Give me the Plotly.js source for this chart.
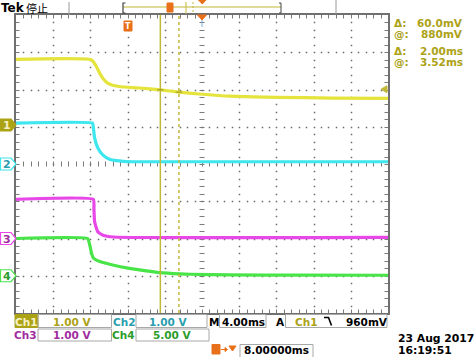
<!DOCTYPE html>
<html><head><meta charset="utf-8">
<script src="https://cdn.plot.ly/plotly-3.0.1.min.js"></script>
<style>html,body{margin:0;padding:0;background:#fff;overflow:hidden}#chart{width:474px;height:357px}</style>
</head><body><div id="chart"></div>
<script>
// ---- data (time in ms relative to trigger, values in volts) ----
const ch1Time = [-12, -3.9, -3.45, -3.0, -2.6, -2.15, -1.7, -0.9, 1.3, 3.52, 5.52, 7.7, 11, 16, 22, 28];
const ch1Volt = [1.76, 1.75, 1.61, 1.39, 1.23, 1.12, 1.07, 1.03, 0.99, 0.94, 0.88, 0.83, 0.77, 0.74, 0.72, 0.71];
const ch2Time = [-12, -3.78, -3.7, -3.55, -3.2, -2.65, -1.95, -1.2, 0.5, 28];
const ch2Volt = [1.1, 1.1, 1.02, 0.70, 0.43, 0.24, 0.13, 0.09, 0.06, 0.06];
const ch3Time = [-12, -3.68, -3.62, -3.55, -3.2, -2.65, -1.5, 28];
const ch3Volt = [1.05, 1.05, 0.8, 0.45, 0.18, 0.09, 0.04, 0.03];
const ch4Time = [-12, -4.3, -4.1, -3.87, -3.66, -3.0, -1.6, 0.2, 2.0, 3.45, 5.6, 6.7, 11, 18.5, 28];
const ch4Volt = [5.0, 5.0, 4.3, 3.0, 2.35, 1.9, 1.45, 1.0, 0.65, 0.42, 0.25, 0.2, 0.12, 0.08, 0.07];
const channelNames = ['Ch1', 'Ch2', 'Ch3', 'Ch4'];
const channelScales = ['1.00 V', '1.00 V', '1.00 V', '5.00 V'];
const cursorTimes = [3.52, 5.52];
const cursorVolts = [0.94, 0.88];
const cursorLabels = ['\u0394:', '@:', '\u0394:', '@:'];
const cursorValues = ['60.0mV', '880mV', '2.00ms', '3.52ms'];
const timebase = '4.00ms';
const trigLevel = 0.96;
const trigLevelText = '960mV';
const trigPosText = '8.00000ms';
const dateText = '23 Aug 2017';
const timeText = '16:19:51';

// ---- styling ----
const C1 = '#e4e43c', C2 = '#3ee6ee', C3 = '#e848e8', C4 = '#48e448';
const T1 = '#aca216', T2 = '#2a9eae', T3 = '#a02ca0', T4 = '#2c9c2c';
const OLIVE = '#c2b838', ORANGE = '#e8701a';
const L = 16, R = 388, T = 15, B = 313;
const X = px => (px - L) / (R - L);
const Y = py => (B - py) / (B - T);
const FONT = 'DejaVu Sans';
const FS = 10.5;
const shapes = [], ann = [];

function line(x0, y0, x1, y1, color, width, dash) {
  shapes.push({type: 'line', xref: 'paper', yref: 'paper', x0: X(x0), y0: Y(y0), x1: X(x1), y1: Y(y1),
    line: {color: color, width: width || 1, dash: dash || 'solid'}});
}
function rect(x0, y0, x1, y1, lineColor, fill, width) {
  shapes.push({type: 'rect', xref: 'paper', yref: 'paper', x0: X(x0), y0: Y(y1), x1: X(x1), y1: Y(y0),
    line: {color: lineColor, width: width === undefined ? 1 : width}, fillcolor: fill || 'rgba(0,0,0,0)'});
}
function poly(pts, lineColor, fill, width, close) {
  let d = pts.map((p, i) => (i ? 'L' : 'M') + X(p[0]).toFixed(5) + ',' + Y(p[1]).toFixed(5)).join(' ');
  if (close !== false) d += ' Z';
  shapes.push({type: 'path', xref: 'paper', yref: 'paper', path: d,
    line: {color: lineColor, width: width === undefined ? 1 : width}, fillcolor: fill || 'rgba(0,0,0,0)'});
}
function text(s, px, py, color, size, anchor, weight, family) {
  ann.push({text: s, xref: 'paper', yref: 'paper', x: X(px), y: Y(py), xanchor: anchor || 'left', yanchor: 'middle',
    showarrow: false, borderpad: 0,
    font: {family: family || FONT, size: size || FS, color: color || '#000', weight: weight || 'bold'}});
}

// graticule dotted grid (pixel-aligned dots) + ticks
const dx = (R - L) / 50, dy = (B - T) / 40;
let gp = '';
const dot = (x, y) => {
  const cx = Math.round(x) + 0.5, cy = Math.round(y) + 0.5;
  gp += 'M' + X(cx - 0.75).toFixed(5) + ',' + Y(cy).toFixed(5) + ' L' + X(cx + 0.75).toFixed(5) + ',' + Y(cy).toFixed(5) + ' ';
};
for (let r = 1; r < 8; r++) {
  if (r === 4) continue;
  const py = T + r * (B - T) / 8;
  for (let i = 1; i < 50; i++) dot(L + i * dx, py);
}
for (let c = 1; c < 10; c++) {
  if (c === 5) continue;
  const px = L + c * (R - L) / 10;
  for (let j = 1; j < 40; j++) dot(px, T + j * dy);
}
shapes.push({type: 'path', xref: 'paper', yref: 'paper', path: gp, line: {color: '#6a6a6a', width: 1.4}, layer: 'below'});

let tp = '';
const seg = (x0, y0, x1, y1) => { tp += 'M' + X(x0).toFixed(5) + ',' + Y(y0).toFixed(5) + ' L' + X(x1).toFixed(5) + ',' + Y(y1).toFixed(5) + ' '; };
for (let i = 1; i < 50; i++) {
  const px = Math.round(L + i * dx) + 0.5;
  seg(px, T, px, T + 3.5); seg(px, B, px, B - 3.5); seg(px, 161.5, px, 166.5);
}
for (let j = 1; j < 40; j++) {
  const py = Math.round(T + j * dy) + 0.5;
  seg(L, py, L + 3.5, py); seg(R, py, R - 3.5, py); seg(199.5, py, 204.5, py);
}
shapes.push({type: 'path', xref: 'paper', yref: 'paper', path: tp, line: {color: '#7a7a7a', width: 1}, layer: 'below'});

// cursors
cursorTimes.forEach((t, i) => {
  shapes.push({type: 'line', xref: 'x', yref: 'paper', x0: t, x1: t, y0: 0, y1: 1,
    line: {color: OLIVE, width: 1.5, dash: i ? '3px,3px' : 'solid'}});
  shapes.push({type: 'line', xref: 'x', yref: 'y2', x0: t - 0.35, x1: t + 0.35, y0: cursorVolts[i], y1: cursorVolts[i],
    line: {color: '#9a9020', width: 1}});
});

// trigger level marker (right edge)
const trigPy = 125 - trigLevel * 37.25;
poly([[381, trigPy], [387, trigPy - 3.5], [387, trigPy + 3.5]], OLIVE, OLIVE, 1);

// trigger position badge in graticule
rect(124, 21, 132, 31, ORANGE, ORANGE, 1);
text('T', 128, 26.5, '#fff', 8, 'center', 'bold');
// center marker
poly([[197.5, 15], [206.5, 15], [202, 20]], ORANGE, ORANGE, 1);
line(202, 20, 202, 27, '#7ab0d8', 1);

// channel ground markers
const grounds = [125, 164, 238.5, 275.75];
const mcol = [T1, C2, C3, C4], mtxt = ['#f4f0c0', T2, T3, T4];
grounds.forEach((g, i) => {
  poly([[0.5, g - 6], [11, g - 6], [16, g], [11, g + 6], [0.5, g + 6]], mcol[i], i === 0 ? T1 : '#fff', 1.2);
  text(String(i + 1), 6.5, g + 0.5, mtxt[i], 11, 'center', 'bold');
});

// top bar
text('Tek', 0, 8.5, '#000', 12, 'left', 'bold');
text('停止', 25, 8.5, '#000', 11, 'left', 'normal', 'Noto Sans CJK SC');
line(69, 2, 69, 15, '#9a9a9a', 1);
line(336, 0, 336, 14, '#9a9a9a', 1);
line(123, 7, 281, 7, OLIVE, 1.2);
poly([[125.5, 3], [123, 3], [123, 13], [125.5, 13]], '#444', null, 1.2, false);
poly([[279, 3], [281, 3], [281, 13], [279, 13]], '#444', null, 1, false);
rect(167, 3, 173, 12, ORANGE, ORANGE, 1);
line(186, 2, 186, 14, OLIVE, 1);
line(193, 2, 193, 14, OLIVE, 1, '2px,2px');
poly([[198.5, 0], [206, 0], [202.3, 4]], ORANGE, ORANGE, 1);

// right cursor readout
const rowsY = [22.5, 33.5, 51.5, 62.5];
rowsY.forEach((py, i) => {
  text(cursorLabels[i], 393, py, T1);
  text(cursorValues[i], 464, py, T1, FS, 'right');
});

// bottom status
rect(15, 314.5, 38, 327.5, T1, T1, 1);
text(channelNames[0], 26.5, 321.5, '#f6f2c4', FS, 'center');
rect(38, 314.5, 111.5, 327.5, '#a8a8a8');
text(channelScales[0], 72, 321.5, T1, FS, 'center');
text(channelNames[1], 124, 321.5, T2, FS, 'center');
rect(136, 314.5, 207, 327.5, '#a8a8a8');
text(channelScales[1], 168, 321.5, T2, FS, 'center');
text('M', 214, 321.5, '#000', FS, 'center');
rect(219.5, 314.5, 266, 327.5, '#a8a8a8');
text(timebase, 243, 321.5, '#000', FS, 'center');
text('A', 280, 321.5, '#000', FS, 'center');
rect(285.5, 314.5, 387, 327.5, '#a8a8a8');
text(channelNames[0], 306, 321.5, T1, FS, 'center');
poly([[324, 317.5], [328.5, 317.5], [331.5, 325.5]], '#000', null, 1.6, false);
text(trigLevelText, 366.5, 321.5, '#000', FS, 'center');

text(channelNames[2], 25.5, 335, T3, FS, 'center');
rect(38, 329, 111.5, 341, '#a8a8a8');
text(channelScales[2], 72, 335, T3, FS, 'center');
text(channelNames[3], 123.5, 335, T4, FS, 'center');
rect(136, 329, 209, 341, '#a8a8a8');
text(channelScales[3], 172, 335, T4, FS, 'center');

rect(212, 344.5, 220, 354, ORANGE, ORANGE, 1);
line(221, 349.5, 227, 349.5, ORANGE, 1);
poly([[225, 347.5], [227.5, 349.5], [225, 351.5]], ORANGE, ORANGE, 1);
poly([[229, 346], [236, 346], [232.5, 351]], ORANGE, ORANGE, 1);
rect(240, 344.5, 313, 357.5, '#a8a8a8');
text(trigPosText, 276.5, 350.5, '#000', FS, 'center');

text(dateText, 397, 338.5, '#000', 10.8);
text(timeText, 397, 350.5, '#000', 10.8);

// ---- traces ----
const traces = [
  {x: ch1Time, y: ch1Volt, yaxis: 'y2', color: C1},
  {x: ch2Time, y: ch2Volt, yaxis: 'y', color: C2},
  {x: ch3Time, y: ch3Volt, yaxis: 'y3', color: C3},
  {x: ch4Time, y: ch4Volt, yaxis: 'y4', color: C4}
].map((d, i) => ({type: 'scatter', mode: 'lines', name: channelNames[i], x: d.x, y: d.y, yaxis: d.yaxis,
  line: {color: d.color, width: 3.2, shape: 'spline', smoothing: 0.4}, hoverinfo: 'skip'}));

const axisBase = {showticklabels: false, ticks: '', showgrid: false, zeroline: false, showline: true, mirror: true,
  linecolor: '#707070', linewidth: 2, fixedrange: true};

const layout = {
  width: 474, height: 357, margin: {l: L, r: 474 - R, t: T, b: 357 - B, pad: 0},
  paper_bgcolor: '#fff', plot_bgcolor: 'rgba(0,0,0,0)', showlegend: false,
  xaxis: Object.assign({range: [-12, 28]}, axisBase),
  yaxis: Object.assign({range: [-4, 4]}, axisBase),
  yaxis2: {overlaying: 'y', range: [-5.05, 2.95], visible: false, fixedrange: true},
  yaxis3: {overlaying: 'y', range: [-2, 6], visible: false, fixedrange: true},
  yaxis4: {overlaying: 'y', range: [-5, 35], visible: false, fixedrange: true},
  shapes: shapes, annotations: ann
};
Plotly.newPlot('chart', traces, layout, {displayModeBar: false, staticPlot: true});
</script></body></html>
